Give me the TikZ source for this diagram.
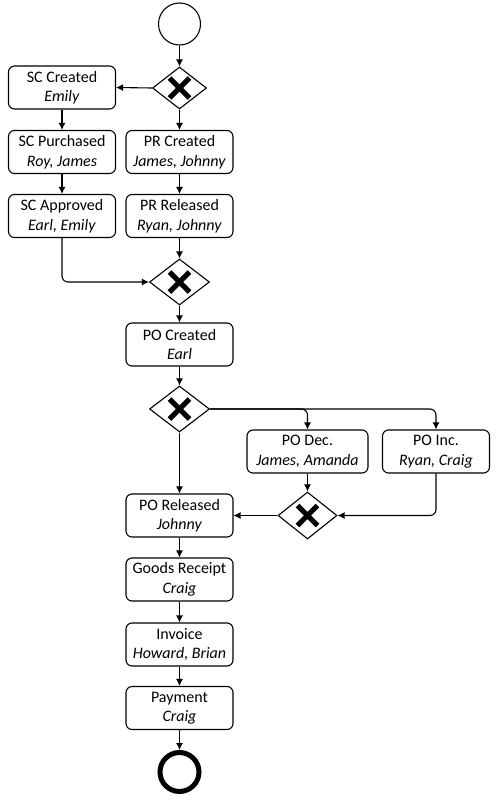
\documentclass[tikz,border=0pt]{standalone}
\usepackage{fontspec}
\setmainfont{Carlito}
\usetikzlibrary{shapes.geometric,arrows.meta}
\begin{document}
\begin{tikzpicture}[x=1pt,y=-1pt,
  every node/.style={font=\fontsize{16}{19.5}\selectfont},
  task/.style={draw,rounded corners=6pt,line width=1.1pt,fill=white,align=center,
    minimum width=107pt,minimum height=43pt,inner sep=1pt},
  gate/.style={draw,diamond,line width=1.1pt,fill=white,inner sep=0pt,
    minimum width=60pt,minimum height=46pt,
    path picture={\draw[line width=5pt]
      ([shift={(-10pt,-10pt)}]path picture bounding box.center) -- ([shift={(10pt,10pt)}]path picture bounding box.center);
      \draw[line width=5pt]
      ([shift={(-10pt,10pt)}]path picture bounding box.center) -- ([shift={(10pt,-10pt)}]path picture bounding box.center);}},
  flow/.style={line width=1.1pt,-{Latex[length=7pt,width=7pt]},rounded corners=6pt}]
\useasboundingbox (0,0) rectangle (498,800);
\node[draw,circle,line width=1.1pt,minimum size=42pt,inner sep=0pt] (start) at (179.5,24) {};
\node[gate,minimum width=54pt,minimum height=42pt] (g1) at (179.5,88) {};
\node[task] (sc1) at (62,87.5) {SC Created\\\textit{Emily}};
\node[task] (sc2) at (62,152) {SC Purchased\\\textit{Roy, James}};
\node[task] (sc3) at (62,216) {SC Approved\\\textit{Earl, Emily}};
\node[task] (pr1) at (179.5,152) {PR Created\\\textit{James, Johnny}};
\node[task] (pr2) at (179.5,216) {PR Released\\\textit{Ryan, Johnny}};
\node[gate] (g2) at (179.5,282) {};
\node[task] (po1) at (179.5,344.5) {PO Created\\\textit{Earl}};
\node[gate] (g3) at (179.5,409) {};
\node[task,minimum width=121pt] (podec) at (307.5,451.5) {PO Dec.\\\textit{James, Amanda}};
\node[task] (poinc) at (436,451.5) {PO Inc.\\\textit{Ryan, Craig}};
\node[gate,minimum width=59pt,minimum height=47pt] (g4) at (307.5,515.5) {};
\node[task] (porel) at (179.5,515.5) {PO Released\\\textit{Johnny}};
\node[task] (gr) at (179.5,579.5) {Goods Receipt\\\textit{Craig}};
\node[task] (inv) at (179.5,644.5) {Invoice\\\textit{Howard, Brian}};
\node[task] (pay) at (179.5,708) {Payment\\\textit{Craig}};
\node[draw,circle,line width=5pt,minimum size=39pt,inner sep=0pt] (end) at (179.5,772) {};
\draw[flow] (start) -- (g1);
\draw[flow] (g1.west) -- (sc1.east);
\draw[flow] (g1.south) -- (pr1.north);
\draw[flow] (sc1) -- (sc2);
\draw[flow] (sc2) -- (sc3);
\draw[flow] (pr1) -- (pr2);
\draw[flow] (pr2) -- (g2.north);
\draw[flow] (sc3.south) |- (g2.west);
\draw[flow] (g2.south) -- (po1);
\draw[flow] (po1) -- (g3.north);
\draw[flow] (g3.east) -| (podec.north);
\draw[flow] (g3.east) -| (poinc.north);
\draw[flow] (podec) -- (g4.north);
\draw[flow] (poinc.south) |- (g4.east);
\draw[flow] (g4.west) -- (porel.east);
\draw[flow] (g3.south) -- (porel.north);
\draw[flow] (porel) -- (gr);
\draw[flow] (gr) -- (inv);
\draw[flow] (inv) -- (pay);
\draw[flow] (pay) -- (end);
\end{tikzpicture}
\end{document}
